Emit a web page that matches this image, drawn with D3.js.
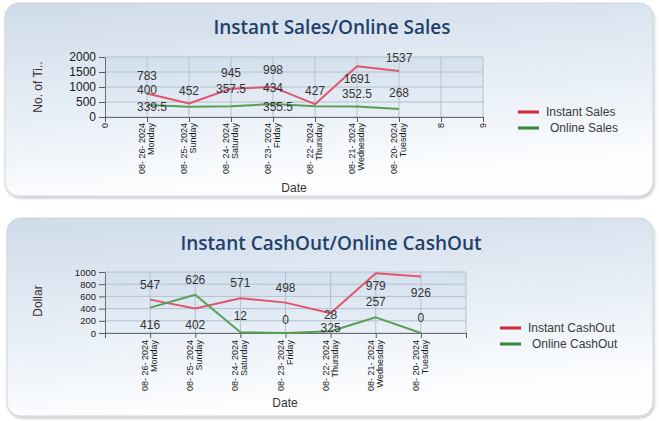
<!DOCTYPE html>
<html>
<head>
<meta charset="utf-8">
<script src="https://cdnjs.cloudflare.com/ajax/libs/d3/7.8.5/d3.min.js"></script>
<style>
  body { margin: 0; background: #fff; }
  svg { display: block; font-family: "Liberation Sans", Arial, sans-serif; }
</style>
</head>
<body>
<div id="chart"></div>
<script>
// data
const dates = ["08- 26- 2024", "08- 25- 2024", "08- 24- 2024", "08- 23- 2024", "08- 22- 2024", "08- 21- 2024", "08- 20- 2024"];
const days = ["Monday", "Sunday", "Saturday", "Friday", "Thursday", "Wednesday", "Tuesday"];

const instantSales = [783, 452, 945, 998, 427, 1691, 1537];
const onlineSales = [400, 339.5, 357.5, 434, 355.5, 352.5, 268];

const instantCashOut = [547, 402, 571, 498, 325, 979, 926];
const onlineCashOut = [416, 626, 12, 0, 28, 257, 0];

const salesTicks = [0, 500, 1000, 1500, 2000];
const cashTicks = [0, 200, 400, 600, 800, 1000];

// label nudges [dx, dy] (the original chart moved colliding labels around)
const salesInstantNudge = [[0, -18], [0, -13], [0, -16], [0, -17], [0, -13], [0, 13], [0, -13]];
const salesOnlineNudge = [[0, -15], [-37, 0], [0, -17], [0, -16], [-37, 0], [0, -13], [0, -16]];
const cashInstantNudge = [[0, -15], [0, 16], [0, -15], [0, -15], [0, 15], [0, 13], [0, 16]];
const cashOnlineNudge = [[0, 17], [0, -15], [0, -16], [0, -13], [0, -16], [0, -16], [0, -15]];

const W = 659, H = 421;
const RED = "#e0566c", GREEN = "#5a9e56";
const RED_KEY = "#d3283c", GREEN_KEY = "#2f8a38";

const svg = d3.select("#chart").append("svg")
    .attr("width", W)
    .attr("height", H);

const defs = svg.append("defs");

let panelGrad = defs.append("linearGradient")
    .attr("id", "panelGrad")
    .attr("x1", 0).attr("y1", 0).attr("x2", 0.25).attr("y2", 1);
panelGrad.append("stop").attr("offset", "0%").attr("stop-color", "#cfdbe9");
panelGrad.append("stop").attr("offset", "55%").attr("stop-color", "#e7eef6");
panelGrad.append("stop").attr("offset", "100%").attr("stop-color", "#fdfeff");

let plotGrad = defs.append("linearGradient")
    .attr("id", "plotGrad")
    .attr("x1", 0).attr("y1", 0).attr("x2", 0).attr("y2", 1);
plotGrad.append("stop").attr("offset", "0%").attr("stop-color", "#c9d9ea").attr("stop-opacity", 0.55);
plotGrad.append("stop").attr("offset", "100%").attr("stop-color", "#e4ecf5").attr("stop-opacity", 0.45);

defs.append("filter")
    .attr("id", "shadow")
    .attr("x", "-5%").attr("y", "-5%").attr("width", "110%").attr("height", "115%")
    .append("feDropShadow")
    .attr("dx", 1).attr("dy", 2)
    .attr("stdDeviation", 1.5)
    .attr("flood-color", "#000")
    .attr("flood-opacity", 0.22);

/**
 * Draw one chart panel
 */
function drawPanel(cfg) {
    let g = svg.append("g");

    // panel card
    g.append("rect")
        .attr("x", cfg.box[0]).attr("y", cfg.box[1])
        .attr("width", cfg.box[2]).attr("height", cfg.box[3])
        .attr("rx", 14)
        .attr("fill", "url(#panelGrad)")
        .attr("stroke", "#cfd5dc")
        .attr("filter", "url(#shadow)");

    // title
    g.append("text")
        .attr("x", cfg.titleX).attr("y", cfg.titleY)
        .attr("text-anchor", "middle")
        .style("font-family", "'Open Sans', sans-serif")
        .style("font-weight", 600)
        .style("font-size", "19px")
        .attr("fill", "#23406b")
        .text(cfg.title);

    let x = d3.scaleLinear().domain([0, cfg.xMax]).range([cfg.plot.left, cfg.plot.right]);
    let y = d3.scaleLinear().domain([0, cfg.yMax]).range([cfg.plot.bottom, cfg.plot.top]);

    // plot background
    g.append("rect")
        .attr("x", cfg.plot.left).attr("y", cfg.plot.top)
        .attr("width", cfg.plot.right - cfg.plot.left)
        .attr("height", cfg.plot.bottom - cfg.plot.top)
        .attr("fill", "url(#plotGrad)");

    // grid
    g.append("g")
        .selectAll("line")
        .data(cfg.yTicks)
        .join("line")
        .attr("x1", cfg.plot.left).attr("x2", cfg.plot.right)
        .attr("y1", d => y(d)).attr("y2", d => y(d))
        .attr("stroke", "#b4c0cc").attr("stroke-width", 1);

    g.append("g")
        .selectAll("line")
        .data(d3.range(1, cfg.xMax + 1))
        .join("line")
        .attr("x1", d => x(d)).attr("x2", d => x(d))
        .attr("y1", cfg.plot.top).attr("y2", cfg.plot.bottom)
        .attr("stroke", "#b4c0cc").attr("stroke-width", 1);

    // y axis
    let yAxis = g.append("g")
        .attr("transform", "translate(" + cfg.plot.left + ",0)")
        .call(d3.axisLeft(y).tickValues(cfg.yTicks).tickFormat(d3.format("d"))
            .tickSize(6).tickPadding(3).tickSizeOuter(0));
    yAxis.select(".domain").attr("stroke", "#6b6f74");
    yAxis.selectAll(".tick line").attr("stroke", "#55595e");
    yAxis.selectAll("text")
        .style("font-size", cfg.yFont + "px")
        .attr("fill", "#1a1a1a");

    // x axis
    let xAxis = g.append("g")
        .attr("transform", "translate(0," + cfg.plot.bottom + ")")
        .call(d3.axisBottom(x).ticks(cfg.xMax).tickSize(5).tickSizeOuter(0).tickFormat(""));
    xAxis.select(".domain").attr("stroke", "#6b6f74");
    xAxis.selectAll(".tick line").attr("stroke", "#55595e");

    // rotated category labels
    let cats = g.append("g")
        .selectAll("g")
        .data(dates)
        .join("g")
        .attr("transform", (d, i) => "translate(" + x(i + 1) + "," + (cfg.plot.bottom + cfg.catGap) + ") rotate(-90)")
        .style("font-size", "9px")
        .attr("fill", "#1a1a1a");
    cats.append("text")
        .attr("text-anchor", "end")
        .attr("y", -2)
        .text(d => d);
    cats.append("text")
        .attr("text-anchor", "end")
        .attr("y", 7)
        .text((d, i) => days[i]);

    // plain numeric ticks with no category
    g.append("g")
        .selectAll("text")
        .data(cfg.extraTicks)
        .join("text")
        .attr("transform", d => "translate(" + x(d) + "," + (cfg.plot.bottom + cfg.catGap) + ") rotate(-90)")
        .attr("text-anchor", "end")
        .attr("y", 3)
        .style("font-size", "9px")
        .attr("fill", "#1a1a1a")
        .text(d => d);

    // axis titles
    g.append("text")
        .attr("transform", "translate(" + cfg.yTitleX + "," + cfg.yTitleY + ") rotate(-90)")
        .attr("text-anchor", "middle")
        .style("font-size", "12px")
        .attr("fill", "#333")
        .text(cfg.yTitle);

    g.append("text")
        .attr("x", cfg.xTitleX).attr("y", cfg.xTitleY)
        .attr("text-anchor", "middle")
        .style("font-size", "12px")
        .attr("fill", "#333")
        .text("Date");

    // lines
    let line = d3.line()
        .x((d, i) => x(i + 1))
        .y(d => y(d));

    cfg.series.forEach(s => {
        g.append("path")
            .datum(s.values)
            .attr("d", line)
            .attr("fill", "none")
            .attr("stroke", s.color)
            .attr("stroke-width", 2)
            .attr("stroke-linejoin", "round");
    });

    // value labels
    cfg.series.forEach(s => {
        g.append("g")
            .selectAll("text")
            .data(s.values)
            .join("text")
            .attr("x", (d, i) => x(i + 1) + s.nudge[i][0])
            .attr("y", (d, i) => y(d) + s.nudge[i][1])
            .attr("dy", "0.35em")
            .attr("text-anchor", "middle")
            .style("font-size", "12px")
            .attr("fill", "#333")
            .text(d => d);
    });

    // legend
    let leg = g.append("g")
        .selectAll("g")
        .data(cfg.series)
        .join("g")
        .attr("transform", (d, i) => "translate(" + cfg.legend.x + "," + (cfg.legend.y + i * cfg.legend.step) + ")");
    leg.append("line")
        .attr("x1", 0).attr("x2", 21)
        .attr("stroke", d => d.key)
        .attr("stroke-width", 3);
    leg.append("text")
        .attr("x", (d, i) => 28 + i * 4)
        .attr("dy", "0.35em")
        .style("font-size", "12px")
        .attr("fill", "#3a3a3a")
        .text(d => d.name);
}

drawPanel({
    box: [5, 3, 648, 193],
    title: "Instant Sales/Online Sales",
    titleX: 332, titleY: 34,
    plot: { left: 105, right: 483, top: 57, bottom: 117 },
    xMax: 9,
    yMax: 2000,
    yTicks: salesTicks,
    yFont: 12,
    catGap: 6,
    extraTicks: [0, 8, 9],
    yTitle: "No. of Ti..",
    yTitleX: 42, yTitleY: 87,
    xTitleX: 294, xTitleY: 192,
    series: [
        { name: "Instant Sales", values: instantSales, color: RED, key: RED_KEY, nudge: salesInstantNudge },
        { name: "Online Sales", values: onlineSales, color: GREEN, key: GREEN_KEY, nudge: salesOnlineNudge }
    ],
    legend: { x: 518, y: 112, step: 16 }
});

drawPanel({
    box: [7, 218, 646, 198],
    title: "Instant CashOut/Online CashOut",
    titleX: 331, titleY: 250,
    plot: { left: 105, right: 466, top: 272, bottom: 333 },
    xMax: 8,
    yMax: 1000,
    yTicks: cashTicks,
    yFont: 9.5,
    catGap: 7,
    extraTicks: [],
    yTitle: "Dollar",
    yTitleX: 42, yTitleY: 301,
    xTitleX: 285, xTitleY: 407,
    series: [
        { name: "Instant CashOut", values: instantCashOut, color: RED, key: RED_KEY, nudge: cashInstantNudge },
        { name: "Online CashOut", values: onlineCashOut, color: GREEN, key: GREEN_KEY, nudge: cashOnlineNudge }
    ],
    legend: { x: 500, y: 328, step: 16 }
});
</script>
</body>
</html>
